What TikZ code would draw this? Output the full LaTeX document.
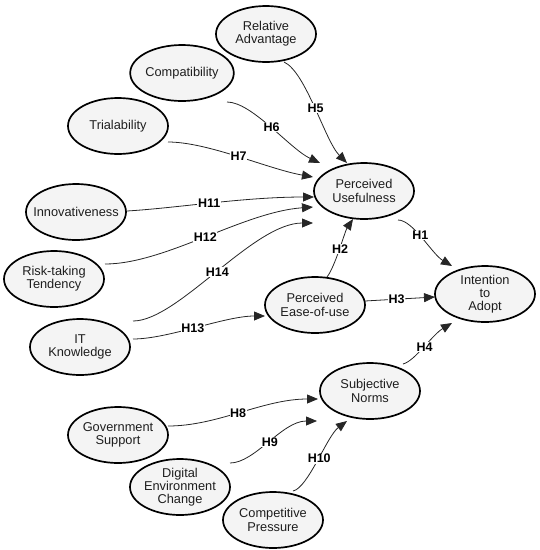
\documentclass[tikz,border=0pt]{standalone}
\usepackage{fontspec}
\setmainfont{Liberation Sans}
\usetikzlibrary{shapes.geometric,arrows.meta,calc}
\definecolor{nodefill}{RGB}{244,244,244}
\definecolor{txt}{RGB}{30,30,30}
\begin{document}
\begin{tikzpicture}[x=1pt,y=-1pt,
  construct/.style={ellipse, draw=black, line width=1.7pt, fill=nodefill, minimum width=100pt, minimum height=56pt, inner sep=0pt, align=center, font=\fontsize{12.8}{13.2}\selectfont, text=txt},
  link/.style={line width=0.8pt, draw=black!85, -{Triangle[length=11pt,width=9pt]}},
  hlbl/.style={fill=white, inner sep=0.6pt, font=\bfseries\fontsize{12.5}{13}\selectfont}
]
\useasboundingbox (0,0) rectangle (540,550);
% constructs
\node[construct] (ra) at (266,34) {Relative\\Advantage};
\node[construct] (co) at (182,73) {Compatibility};
\node[construct] (tr) at (118,126) {Trialability};
\node[construct] (pu) at (364,191) {Perceived\\Usefulness};
\node[construct, inner xsep=-8pt] (in) at (76,212) {Innovativeness};
\node[construct] (rt) at (54,279) {Risk-taking\\Tendency};
\node[construct] (ia) at (485,294) {Intention\\to\\Adopt};
\node[construct] (pe) at (315,305) {Perceived\\Ease-of-use};
\node[construct] (it) at (80,347) {IT\\Knowledge};
\node[construct] (sn) at (370,391) {Subjective\\Norms};
\node[construct] (gs) at (118,435) {Government\\Support};
\node[construct, inner xsep=-1pt] (de) at (180,487) {Digital\\Environment\\Change};
\node[construct] (cp) at (273,520) {Competitive\\Pressure};
% end points
\coordinate (s5) at ($(ra.center)+(18,28)$);
\coordinate (t5) at ($(pu.center)+(-17,-28)$);
\coordinate (s6) at ($(co.center)+(45,29)$);
\coordinate (t6) at ($(pu.center)+(-44,-28)$);
\coordinate (s7) at ($(tr.center)+(50,16)$);
\coordinate (t7) at ($(pu.center)+(-51,-14)$);
\coordinate (s11) at ($(in.center)+(51,-1)$);
\coordinate (t11) at ($(pu.center)+(-50,6)$);
\coordinate (s12) at ($(rt.center)+(51,-15)$);
\coordinate (t12) at ($(pu.center)+(-51,16)$);
\coordinate (s14) at ($(it.center)+(53,-26)$);
\coordinate (t14) at ($(pu.center)+(-51,32)$);
\coordinate (s13) at ($(it.center)+(53,-8)$);
\coordinate (t13) at ($(pe.center)+(-50,11)$);
\coordinate (s2) at ($(pe.center)+(12,-28)$);
\coordinate (t2) at ($(pu.center)+(-11,28)$);
\coordinate (s1) at ($(pu.center)+(34,29)$);
\coordinate (t1) at ($(ia.center)+(-33,-28)$);
\coordinate (s3) at ($(pe.center)+(50,-4)$);
\coordinate (t3) at ($(ia.center)+(-50,3)$);
\coordinate (s4) at ($(sn.center)+(33,-27)$);
\coordinate (t4) at ($(ia.center)+(-33,29)$);
\coordinate (s8) at ($(gs.center)+(50,-9)$);
\coordinate (t8) at ($(sn.center)+(-52,8)$);
\coordinate (s9) at ($(de.center)+(50,-24)$);
\coordinate (t9) at ($(sn.center)+(-53,30)$);
\coordinate (s10) at ($(cp.center)+(20,-29)$);
\coordinate (t10) at ($(sn.center)+(-23,30)$);
% connectors
\draw[link] (s5) .. controls +(22,10) and +(-22,-22) .. (t5) node[hlbl,pos=0.5] (l5) {H5};
\draw[link] (s6) .. controls +(25,0) and +(-30,-14) .. (t6) node[hlbl,pos=0.5] (l6) {H6};
\draw[link] (s7) .. controls +(40,0) and +(-45,-8) .. (t7) node[hlbl,pos=0.5] (l7) {H7};
\draw[link] (s11) .. controls +(50,-3) and +(-70,0) .. (t11) node[hlbl,pos=0.48] (l11) {H11};
\draw[link] (s12) .. controls +(60,0) and +(-70,5) .. (t12) node[hlbl,pos=0.5] (l12) {H12};
\draw[link] (s14) .. controls +(45,0) and +(-60,0) .. (t14) node[hlbl,pos=0.5] (l14) {H14};
\draw[link] (s13) .. controls +(35,0) and +(-40,0) .. (t13) node[hlbl,pos=0.47] (l13) {H13};
\draw[link] (s2) .. controls +(8,-10) and +(-8,12) .. (t2) node[hlbl,pos=0.5] (l2) {H2};
\draw[link] (s1) .. controls +(15,0) and +(-20,-12) .. (t1) node[hlbl,pos=0.45] (l1) {H1};
\draw[link] (s3) -- (t3) node[hlbl,pos=0.45] (l3) {H3};
\draw[link] (s4) .. controls +(12,-3) and +(-20,12) .. (t4) node[hlbl,pos=0.5] (l4) {H4};
\draw[link] (s8) .. controls +(50,0) and +(-55,0) .. (t8) node[hlbl,pos=0.48] (l8) {H8};
\draw[link] (s9) .. controls +(25,0) and +(-35,0) .. (t9) node[hlbl,pos=0.5] (l9) {H9};
\draw[link] (s10) .. controls +(15,-3) and +(-20,15) .. (t10) node[hlbl,pos=0.52] (l10) {H10};
\end{tikzpicture}
\end{document}
